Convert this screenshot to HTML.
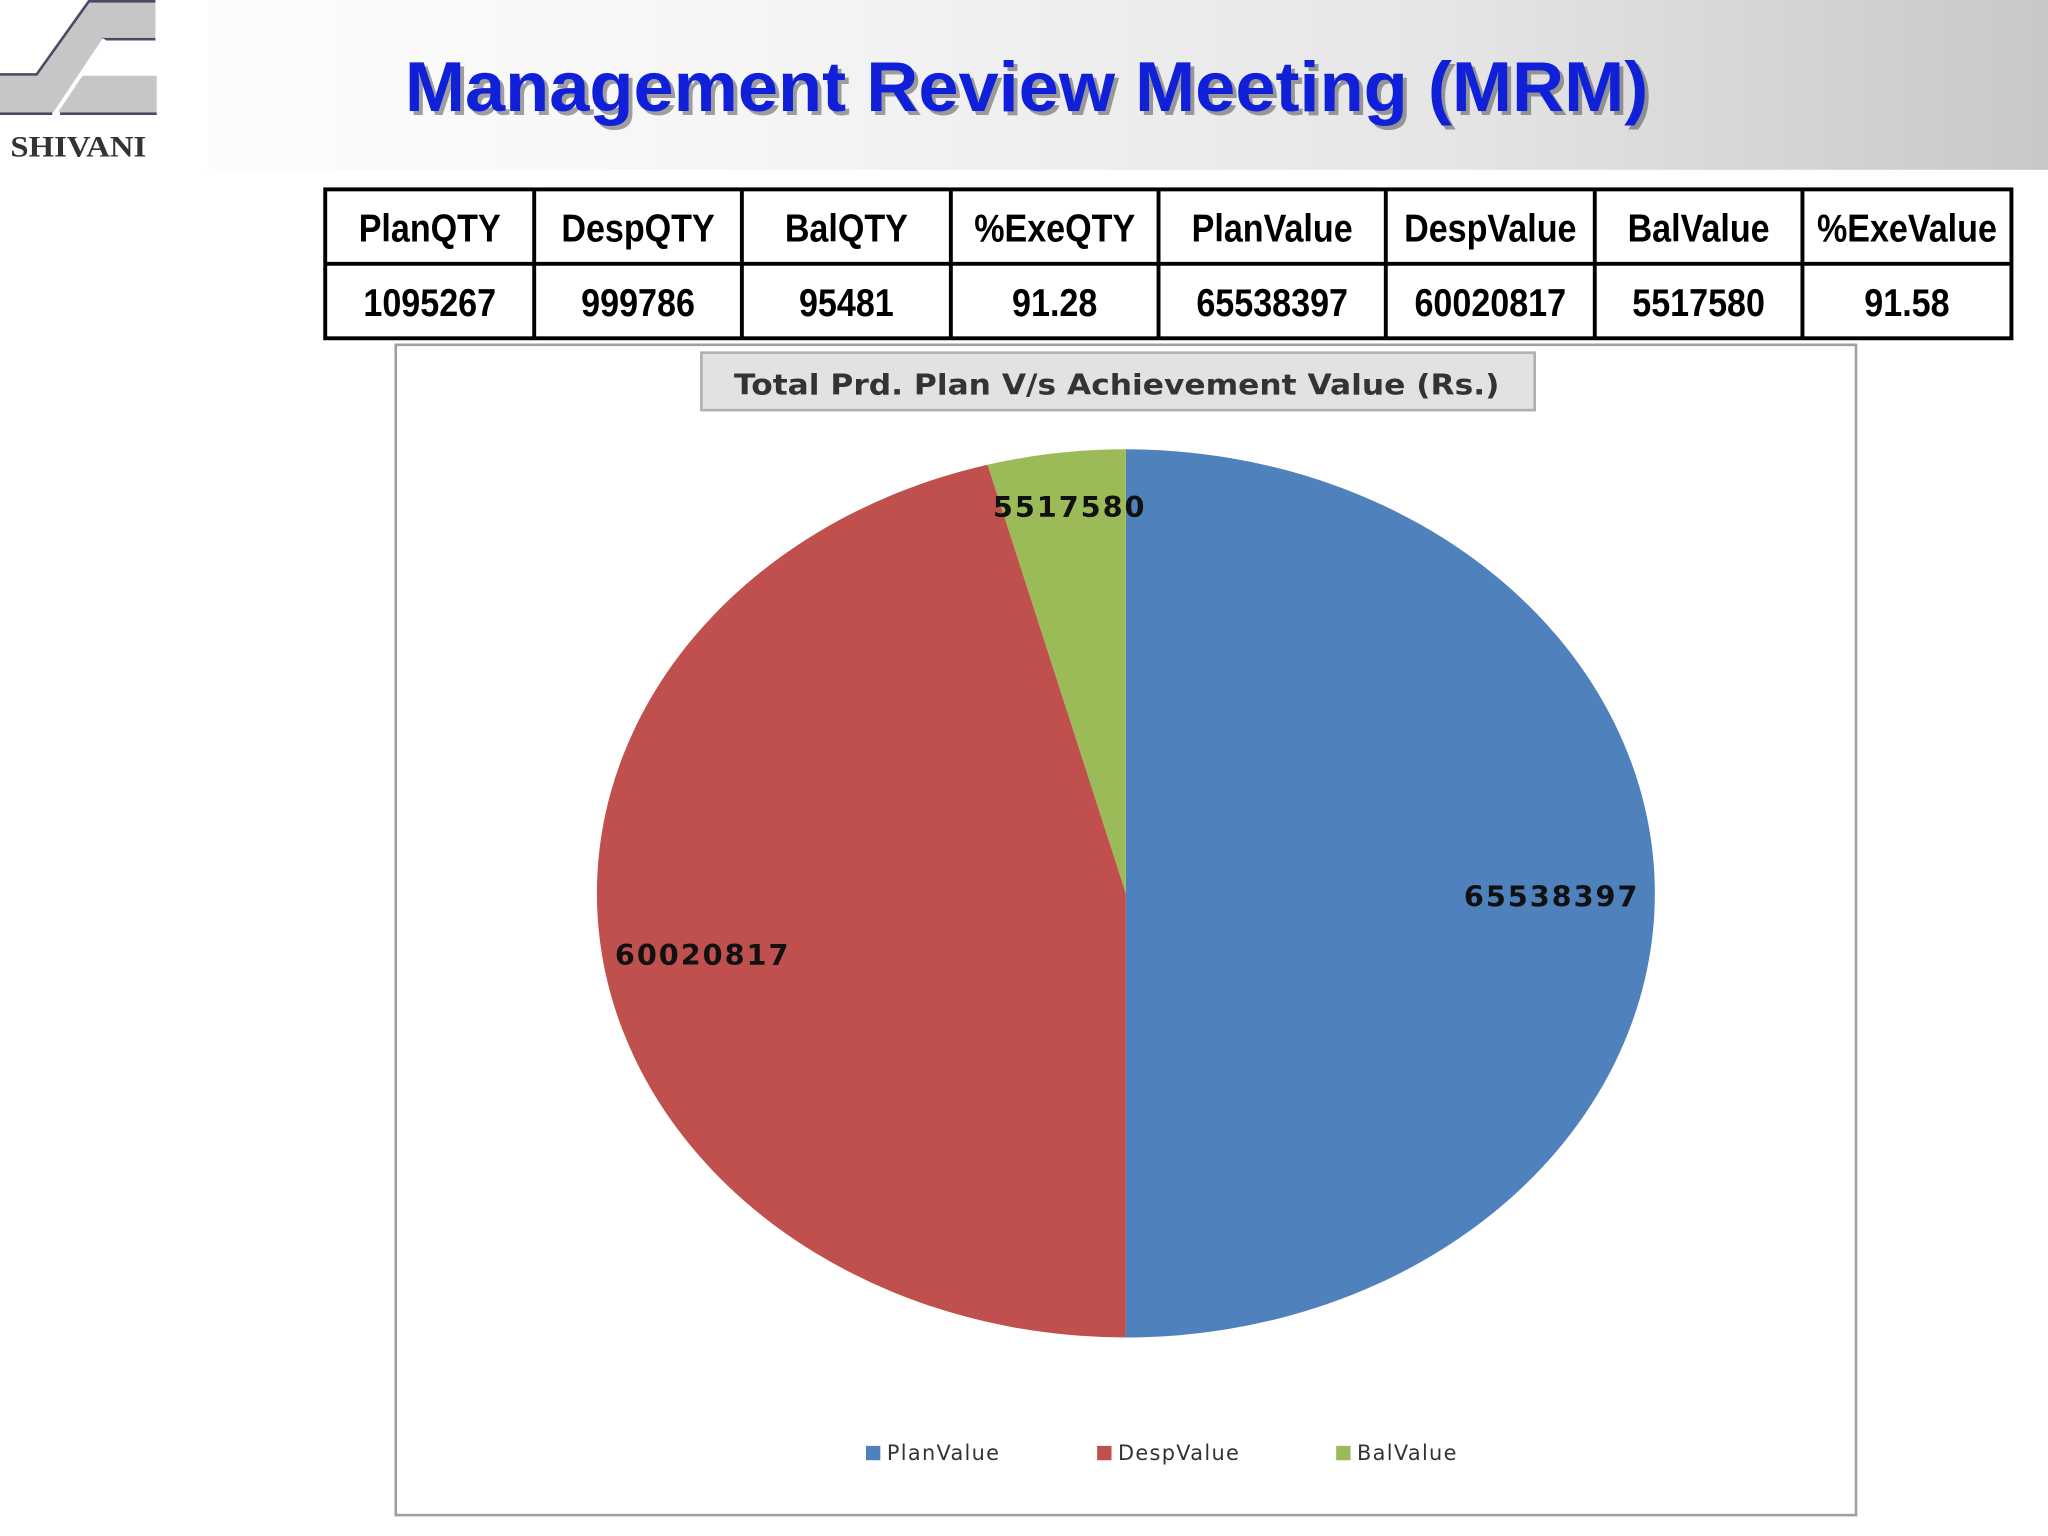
<!DOCTYPE html>
<html><head><meta charset="utf-8"><style>
html,body{margin:0;padding:0;background:#fff}
svg{display:block}
</style></head><body>
<svg width="2048" height="1536" viewBox="0 0 1568 1176" xmlns="http://www.w3.org/2000/svg">
<defs>
<linearGradient id="hdr" x1="0" x2="1" y1="0" y2="0">
<stop offset="0" stop-color="#ffffff"/><stop offset="0.35" stop-color="#f6f6f6"/><stop offset="0.7" stop-color="#e6e6e6"/><stop offset="1" stop-color="#c8c8c8"/>
</linearGradient>
</defs>
<rect x="0" y="0" width="1568" height="130" fill="url(#hdr)"/>
<rect x="0" y="0" width="160" height="130" fill="#fff"/>
<g>
<polygon points="0,58 28,58 68,0 119,0 119,29 80,29 62,58 120,58 120,86 0,86" fill="#c6c6c6"/>
<polyline points="0,57 28,57 68,1 119,1" fill="none" stroke="#4a4a66" stroke-width="2"/>
<line x1="78" y1="30" x2="119" y2="30" stroke="#4a4a66" stroke-width="2"/>
<line x1="80" y1="30" x2="42" y2="87" stroke="#fff" stroke-width="3"/>
<line x1="0" y1="87" x2="40" y2="87" stroke="#4a4a66" stroke-width="2"/>
<line x1="46" y1="87" x2="120" y2="87" stroke="#4a4a66" stroke-width="2"/>
<text x="60" y="120" text-anchor="middle" font-family="Liberation Serif, serif" font-weight="bold" font-size="23" fill="#333" textLength="104" lengthAdjust="spacingAndGlyphs">SHIVANI</text>
</g>
<text x="313" y="88" font-family="Liberation Sans, sans-serif" font-weight="bold" font-size="54" fill="#333" opacity="0.45" textLength="952" lengthAdjust="spacingAndGlyphs">Management Review Meeting (MRM)</text>
<text x="310" y="85" font-family="Liberation Sans, sans-serif" font-weight="bold" font-size="54" fill="#1020d8" textLength="952" lengthAdjust="spacingAndGlyphs">Management Review Meeting (MRM)</text>
<g id="tbl" font-family="Liberation Sans, sans-serif" font-weight="bold" font-size="30" fill="#000"></g>
<rect x="303" y="264" width="1118" height="896" fill="#fff" stroke="#a0a0a0" stroke-width="2"/>
<rect x="537" y="270" width="638" height="44" fill="#e2e2e2" stroke="#b0b0b0" stroke-width="2"/>
<text x="562" y="302" font-family="DejaVu Sans, sans-serif" font-weight="bold" font-size="22" fill="#333" textLength="586" lengthAdjust="spacingAndGlyphs">Total Prd. Plan V/s Achievement Value (Rs.)</text>
<g id="pie"></g>
<g id="legend" font-family="DejaVu Sans, sans-serif" font-size="16" fill="#333" letter-spacing="1"></g>
</svg>
<script>
const headers=["PlanQTY","DespQTY","BalQTY","%ExeQTY","PlanValue","DespValue","BalValue","%ExeValue"];
const rowVals=["1095267","999786","95481","91.28","65538397","60020817","5517580","91.58"];
const categories=["PlanValue","DespValue","BalValue"];
const values=[65538397,60020817,5517580];
const colors=["#4f81bd","#c0504d","#9bbb59"];
const NS="http://www.w3.org/2000/svg";
function mk(t,a,p){const e=document.createElementNS(NS,t);for(const k in a)e.setAttribute(k,a[k]);p.appendChild(e);return e;}
function narrow(t){const w=t.getComputedTextLength();t.setAttribute('textLength',w*0.87);t.setAttribute('lengthAdjust','spacingAndGlyphs');}
const tbl=document.getElementById('tbl');
const cx=[249,409,568,728,887,1061,1221,1380,1540];
mk('rect',{x:249,y:145,width:1291,height:114,fill:'#fff',stroke:'#000','stroke-width':3},tbl);
mk('line',{x1:249,x2:1540,y1:202,y2:202,stroke:'#000','stroke-width':3},tbl);
for(let i=1;i<cx.length-1;i++)mk('line',{x1:cx[i],x2:cx[i],y1:145,y2:259,stroke:'#000','stroke-width':3},tbl);
headers.forEach((h,i)=>{const t=mk('text',{x:(cx[i]+cx[i+1])/2,y:185,'text-anchor':'middle'},tbl);t.textContent=h;narrow(t);


const v=mk('text',{x:(cx[i]+cx[i+1])/2,y:242,'text-anchor':'middle'},tbl);v.textContent=rowVals[i];narrow(v);

});
const pie=document.getElementById('pie');
const PX=862,PY=684,RX=405,RY=340;
const total=values.reduce((a,b)=>a+b,0);
function pt(f){const a=f*2*Math.PI;return [PX+RX*Math.sin(a),PY-RY*Math.cos(a)];}
let acc=0;
const labelPos=[[1188,694],[538,739],[819,396]];
values.forEach((v,i)=>{const f0=acc/total,f1=(acc+v)/total;acc+=v;
const [x0,y0]=pt(f0),[x1,y1]=pt(f1);const large=(f1-f0)>0.5?1:0;
const p=mk('path',{d:`M${PX},${PY} L${x0},${y0} A${RX},${RY} 0 ${large} 1 ${x1},${y1} Z`,fill:colors[i]},pie);


const lp=labelPos[i];
const t=mk('text',{x:lp[0],y:lp[1],'text-anchor':'middle','font-family':'DejaVu Sans, sans-serif','font-weight':'bold','font-size':22,fill:'#111','letter-spacing':'1.5'},pie);
t.textContent=String(values[i]);

});
const lg=document.getElementById('legend');
const lx=[663,840,1023];
categories.forEach((c,i)=>{
const r=mk('rect',{x:lx[i],y:1107,width:11,height:11,fill:colors[i]},lg);


const t=mk('text',{x:lx[i]+16,y:1118},lg);t.textContent=c;

});
</script>
</body></html>
